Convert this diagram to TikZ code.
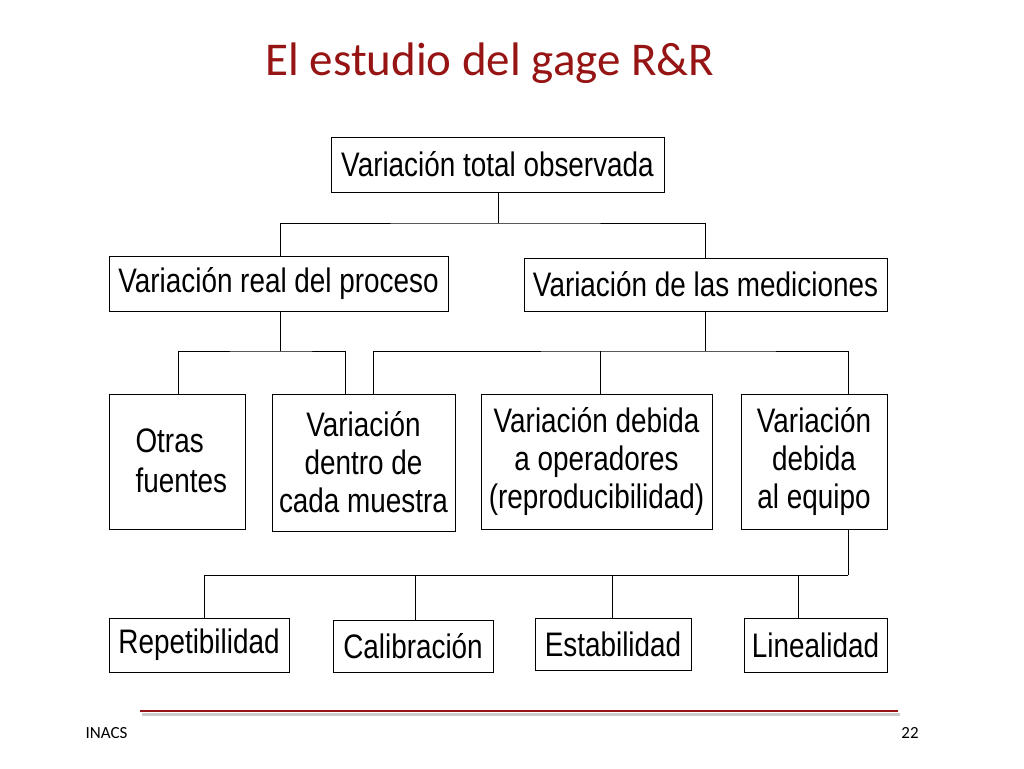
\documentclass[tikz,border=0pt]{standalone}
\usepackage{fontspec}
\setmainfont{Liberation Sans}[FakeStretch=0.82]
\newfontfamily\calfont{Carlito}
\definecolor{dred}{RGB}{150,20,20}
\begin{document}
\begin{tikzpicture}[x=1pt,y=-1pt,
  bx/.style={draw,line width=1pt,inner sep=0pt,align=center,font=\fontsize{34}{38}\selectfont},
  ln/.style={line width=1pt}]
\useasboundingbox (0,0) rectangle (1024,768);
\node[font=\calfont\fontsize{47}{50}\selectfont,text=dred] (title) at (490,63) {El estudio del gage R\&R};
\def\B#1#2#3#4#5#6{\node[bx,minimum width=#4-#2,minimum height=#5-#3] (#1) at ({(#2+#4)/2},{(#3+#5)/2}) {#6};}
\B{tot}{331}{137}{664}{192}{Variación total observada}
\B{real}{109}{256}{448}{311}{Variación real del proceso}
\B{med}{524}{258}{887}{311}{Variación de las mediciones}
\B{otr}{109}{394}{245}{529}{}
\node[font=\fontsize{34}{40}\selectfont,align=left,anchor=west] (otrt) at (132,461) {Otras\\fuentes};
\B{den}{272}{394}{455}{531}{Variación\\dentro de\\cada muestra}
\B{ope}{481}{394}{712}{529}{Variación debida\\a operadores\\(reproducibilidad)}
\B{equ}{741}{394}{887}{529}{Variación\\debida\\al equipo}
\B{rep}{109}{618}{289}{672}{Repetibilidad}
\B{cal}{333}{620}{493}{672}{Calibración}
\B{est}{535}{618}{691}{670}{Estabilidad}
\B{lin}{744}{618}{887}{672}{Linealidad}
\coordinate (j1) at (498,223);
\draw[ln] (tot.south -| j1) -- (j1);
\draw[ln] (real.north -| 280,0) |- (j1) -| (med.north -| 705,0);
\coordinate (j2) at (280,351);
\draw[ln] (real.south -| j2) -- (j2);
\draw[ln] (otr.north -| 178,0) |- (j2) -| (den.north -| 345,0);
\coordinate (j3) at (705,351);
\draw[ln] (med.south -| j3) -- (j3);
\draw[ln] (den.north -| 373,0) |- (j3) -| (equ.north -| 848,0);
\draw[ln] (ope.north -| 600,0) -- (600,351);
\coordinate (j4) at (848,575);
\draw[ln] (equ.south -| j4) -- (j4);
\draw[ln] (rep.north -| 204,0) |- (j4);
\draw[ln] (798,575) -- (lin.north -| 798,0);
\draw[ln] (415,575) -- (cal.north -| 415,0);
\draw[ln] (612,575) -- (est.north -| 612,0);
\draw[line width=3pt,gray!40] (142,714) -- (900,714);
\draw[line width=1.5pt,dred] (140,711) -- (898,711);
\node[font=\calfont\fontsize{17}{19}\selectfont,anchor=west] (inacs) at (82,733) {INACS};
\node[font=\calfont\fontsize{17}{19}\selectfont] (pg) at (910,733) {22};
\end{tikzpicture}
\end{document}
